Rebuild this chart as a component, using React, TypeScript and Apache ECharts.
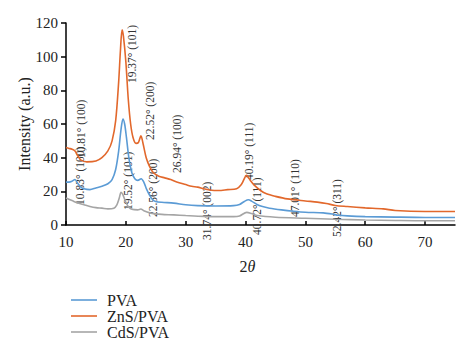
import React, { useEffect, useRef } from "react";
import * as echarts from "echarts";

const seriesNames = ["PVA", "ZnS/PVA", "CdS/PVA"];
const seriesColors = ["#5B9BD5", "#E2682C", "#A5A5A5"];

const pvaData: [number, number][] = [
  [10, 25.5], [10.5, 25.5], [11, 26], [11.5, 27], [12, 24.5], [12.5, 22.5], [13, 21.5], [14, 21], [15, 22],
  [16, 23], [17, 24.5], [17.7, 27], [18.3, 33], [18.8, 44], [19.2, 57], [19.52, 63], [19.8, 60],
  [20.1, 52], [20.5, 40], [21, 31], [21.5, 27.5], [22, 26.5], [22.56, 27.5], [23, 25.5], [23.5, 21],
  [24, 17.5], [24.5, 15], [25, 14], [26, 13.5], [28, 13], [30, 12], [32, 11.5], [35, 11.3], [38, 11.5],
  [39, 12.2], [39.8, 14], [40.5, 15], [41, 14.2], [42, 12], [43, 10.8], [44, 10], [46, 9], [48, 8.2],
  [50, 7.6], [53, 7.2], [54.5, 6.5], [55.5, 5.8], [57, 5.4], [60, 5], [65, 4.7], [70, 4.5], [75, 4.5]
];

const znsData: [number, number][] = [
  [10, 46], [10.5, 45.5], [11, 45], [11.5, 44], [12, 41], [12.5, 38.5], [13.5, 37.5], [15, 38],
  [16, 40], [17, 44], [17.7, 50], [18.3, 62], [18.8, 85], [19.1, 104], [19.37, 116], [19.6, 112],
  [20, 97], [20.4, 75], [20.8, 60], [21.2, 52], [21.7, 48.5], [22.1, 49], [22.52, 53], [22.9, 48],
  [23.4, 40], [24, 34.5], [24.6, 31], [25.5, 29], [26.5, 28], [27.5, 27], [28.5, 25.5], [30, 24],
  [31, 23], [32, 22.5], [33, 21.5], [34, 20.8], [35.5, 20.5], [37, 21], [38.5, 21.5], [39.3, 24],
  [40.19, 29.5], [40.8, 26.5], [41.5, 23.5], [42.5, 20.5], [43.5, 18.5], [45, 17], [47, 15.5],
  [50, 14.3], [52, 13.6], [53.5, 12.8], [55, 11.6], [57, 11], [60, 10.2], [63, 9.6], [65, 8.6],
  [70, 8], [75, 8]
];

const cdsData: [number, number][] = [
  [10, 16], [11, 14.5], [12, 13], [13, 12], [14, 11], [15, 10.3], [16, 10], [17, 9.6], [18, 10],
  [18.5, 12], [18.9, 16], [19.2, 19.5], [19.5, 18], [20, 13.5], [20.5, 10.5], [21, 9.3], [22, 9],
  [22.5, 9.5], [23, 8.5], [24, 7.2], [25, 6.6], [26, 6.3], [28, 6], [30, 5.6], [33, 5.1], [36, 5],
  [38, 5], [39, 5.4], [40.2, 7.5], [41, 6.8], [42, 5.6], [45, 4.6], [50, 4], [55, 3.4], [60, 3],
  [65, 2.7], [70, 2.5], [75, 2.5]
];

const annoTexts = [
  "10.81° (100)", "10.83° (100)", "19.37° (101)", "19.52° (101)", "22.52° (200)", "22.56° (200)",
  "26.94° (100)", "31.74° (002)", "40.19° (111)", "40.72° (111)", "47.01° (110)", "52.42° (311)"
];
const annoX = [12.5, 12.35, 21.0, 20.4, 24.05, 24.55, 28.55, 33.6, 40.6, 41.9, 48.3, 55.3];
const annoY = [39.8, 11.9, 84.3, 8.9, 50.5, 4.75, 30.9, -8.9, 26.7, -5.9, 4.75, -7.1];

const xTicks = { min: 10, max: 75, interval: 10 };
const yTicks = { min: 0, max: 120, interval: 20 };

const FONT = "'Liberation Serif', 'DejaVu Serif', serif";
const LEGEND_ICON = "path://M0,0 L26,0 L26,1.6 L0,1.6 Z";

export default function App() {
  const ref = useRef<HTMLDivElement>(null);
  useEffect(() => {
    document.body.style.margin = "0";
    if (!ref.current) return;
    const chart = echarts.init(ref.current, undefined, { renderer: "svg" });
    const datasets = [pvaData, znsData, cdsData];
    chart.setOption({
      animation: false,
      textStyle: { fontFamily: FONT },
      grid: { left: 66, top: 23, right: 19, bottom: 132 },
      legend: {
        orient: "vertical",
        left: 66,
        top: 287,
        itemWidth: 26,
        itemHeight: 14,
        itemGap: 0,
        icon: LEGEND_ICON,
        data: seriesNames,
        textStyle: { fontFamily: FONT, fontSize: 16, lineHeight: 16, color: "#222", padding: [0, 0, 0, 5] },
      },
      xAxis: {
        type: "value",
        min: xTicks.min,
        max: xTicks.max,
        interval: xTicks.interval,
        name: "2{i|θ}",
        nameLocation: "middle",
        nameGap: 33,
        nameTextStyle: {
          fontFamily: FONT, fontSize: 16, color: "#222", padding: [0, 26, 0, 0],
          rich: { i: { fontFamily: FONT, fontStyle: "italic", fontSize: 16, color: "#222" } },
        },
        axisLine: { show: true, lineStyle: { color: "#000", width: 1.5 } },
        axisTick: { show: true, inside: true, length: 4, lineStyle: { color: "#000", width: 1.5 } },
        axisLabel: { fontFamily: FONT, fontSize: 15, color: "#222", margin: 9, showMaxLabel: false },
        splitLine: { show: false },
      },
      yAxis: {
        type: "value",
        min: yTicks.min,
        max: yTicks.max,
        interval: yTicks.interval,
        name: "Intensity (a.u.)",
        nameLocation: "middle",
        nameGap: 34,
        nameMoveOverlap: false,
        nameTextStyle: { fontFamily: FONT, fontSize: 16, color: "#222" },
        axisLine: { show: true, lineStyle: { color: "#000", width: 1.5 } },
        axisTick: { show: true, inside: false, length: 5, lineStyle: { color: "#000", width: 1.5 } },
        axisLabel: { fontFamily: FONT, fontSize: 15, color: "#222", margin: 8 },
        splitLine: { show: false },
      },
      series: seriesNames.map((name, i) => ({
        name,
        type: "line",
        data: datasets[i],
        symbol: "none",
        smooth: 0.3,
        z: 3,
        lineStyle: { color: seriesColors[i], width: 1.6 },
        itemStyle: { color: seriesColors[i] },
      })),
    });
    const graphics = annoTexts.map((t, i) => {
      const p = chart.convertToPixel({ gridIndex: 0 }, [annoX[i], annoY[i]]) as number[];
      return {
        type: "text",
        x: p[0],
        y: p[1],
        rotation: Math.PI / 2,
        z: 1,
        style: {
          text: t,
          fontFamily: FONT,
          fontSize: 11.5,
          fill: "#333",
          align: "left",
          verticalAlign: "middle",
        },
      };
    });
    chart.setOption({ graphic: graphics });
    return () => chart.dispose();
  }, []);
  return <div ref={ref} style={{ width: 474, height: 357 }} />;
}
